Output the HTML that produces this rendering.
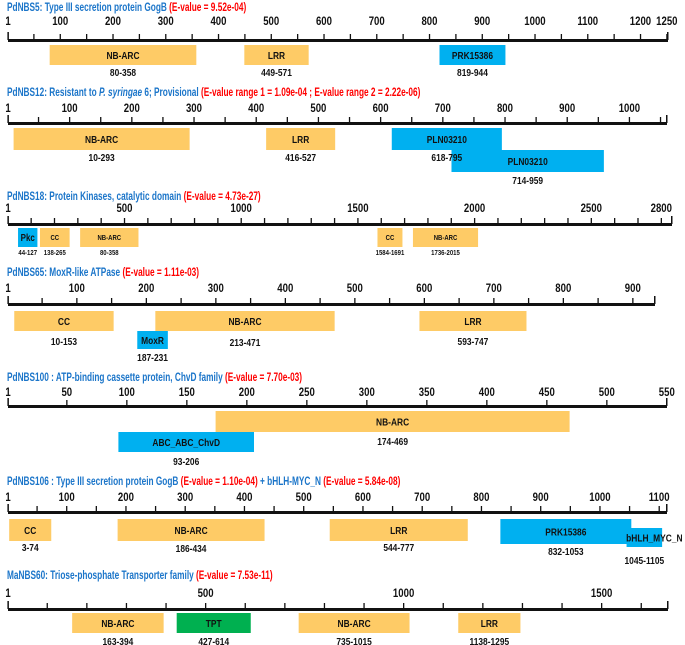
<!DOCTYPE html>
<html><head><meta charset="utf-8"><style>
html,body{margin:0;padding:0;background:#fff;}
svg{display:block;font-family:"Liberation Sans",Arial,sans-serif;}
</style></head><body>
<svg id="chart" width="685" height="645" viewBox="0 0 685 645" xmlns="http://www.w3.org/2000/svg"></svg>
<script>
// ---- data ----
const p1Ticks=[1,100,200,300,400,500,600,700,800,900,1000,1100,1200,1250];
const p1Names=["NB-ARC","LRR","PRK15386"];
const p1Starts=[80,449,819];
const p1Ends=[358,571,944];
const p1Types=["o","o","b"];

const p2Ticks=[1,100,200,300,400,500,600,700,800,900,1000];
const p2Names=["NB-ARC","LRR","PLN03210","PLN03210"];
const p2Starts=[10,416,618,714];
const p2Ends=[293,527,795,959];
const p2Types=["o","o","b","b"];

const p3Ticks=[1,500,1000,1500,2000,2500,2800];
const p3Names=["Pkc","CC","NB-ARC","CC","NB-ARC"];
const p3Starts=[44,138,310,1584,1736];
const p3Ends=[127,265,560,1691,2015];
const p3Printed=["44-127","138-265","80-358","1584-1691","1736-2015"];
const p3Types=["b","o","o","o","o"];

const p4Ticks=[1,100,200,300,400,500,600,700,800,900];
const p4Names=["CC","MoxR","NB-ARC","LRR"];
const p4Starts=[10,187,213,593];
const p4Ends=[153,231,471,747];
const p4Types=["o","b","o","o"];

const p5Ticks=[1,50,100,150,200,250,300,350,400,450,500,550];
const p5Names=["NB-ARC","ABC_ABC_ChvD"];
const p5Starts=[174,93];
const p5Ends=[469,206];
const p5Types=["o","b"];

const p6Ticks=[1,100,200,300,400,500,600,700,800,900,1000,1100];
const p6Names=["CC","NB-ARC","LRR","PRK15386","bHLH_MYC_N"];
const p6Starts=[3,186,544,832,1045];
const p6Ends=[74,434,777,1053,1105];
const p6Types=["o","o","o","b","b"];

const p7Ticks=[1,500,1000,1500];
const p7Names=["NB-ARC","TPT","NB-ARC","LRR"];
const p7Starts=[163,427,735,1138];
const p7Ends=[394,614,1015,1295];
const p7Types=["o","g","o","o"];

const B="#1b75c9",R="#ff0000";
const panels=[
 {id:"pdnbs5",title:[["PdNBS5: Type III secretion protein GogB ",B],["(E-value = 9.52e-04)",R]],ticks:p1Ticks,names:p1Names,starts:p1Starts,ends:p1Ends,types:p1Types,
  ly:{t:11,tk:25,ax:40,x0:8,k:0.5275,end:668,minor:50,tops:[45,45,45],h:[20,20,20],lab:[76,76,76],fs:10.5,ls:10.5}},
 {id:"pdnbs12",title:[["PdNBS12: Resistant to ",B],["P. syringae",B,1],[" 6; Provisional ",B],["(E-value range 1 = 1.09e-04 ; E-value range 2 = 2.22e-06)",R]],ticks:p2Ticks,names:p2Names,starts:p2Starts,ends:p2Ends,types:p2Types,
  ly:{t:96,tk:112,ax:123,x0:8,k:0.622,end:667,minor:50,tops:[128,128,128,150],h:[22,22,22,22],lab:[161,161,161,184],fs:10.5,ls:10.5}},
 {id:"pdnbs18",title:[["PdNBS18: Protein Kinases, catalytic domain ",B],["(E-value = 4.73e-27)",R]],ticks:p3Ticks,names:p3Names,starts:p3Starts,ends:p3Ends,types:p3Types,printed:p3Printed,
  ly:{t:200,tk:212,ax:224,x0:8,k:0.2334,end:672,minor:100,tops:[228,228,228,228,228],h:[19,19,19,19,19],lab:[255,255,255,255,255],fs:7.5,ls:7.5,first:10}},
 {id:"pdnbs65",title:[["PdNBS65: MoxR-like ATPase ",B],["(E-value = 1.11e-03)",R]],ticks:p4Ticks,names:p4Names,starts:p4Starts,ends:p4Ends,types:p4Types,
  ly:{t:276,tk:292,ax:304,x0:8,k:0.695,end:655,minor:50,tops:[311,331,311,311],h:[20,18,20,20],lab:[345,361,346,345],fs:10.5,ls:10.5}},
 {id:"pdnbs100",title:[["PdNBS100 : ATP-binding cassette protein, ChvD family ",B],["(E-value = 7.70e-03)",R]],ticks:p5Ticks,names:p5Names,starts:p5Starts,ends:p5Ends,types:p5Types,
  ly:{t:381,tk:396,ax:406,x0:8,k:1.2,end:667,minor:50,tops:[411,432],h:[21,20],lab:[445,465],fs:10.5,ls:10.5}},
 {id:"pdnbs106",title:[["PdNBS106 : Type III secretion protein  GogB ",B],["(E-value = 1.10e-04)",R],[" + bHLH-MYC_N ",B],["(E-value = 5.84e-08)",R]],ticks:p6Ticks,names:p6Names,starts:p6Starts,ends:p6Ends,types:p6Types,
  ly:{t:485,tk:501,ax:512,x0:8,k:0.5925,end:667,minor:50,tops:[519,519,519,519,528],h:[22,22,22,25,19],lab:[551,552,551,555,564],fs:10.5,ls:10.5}},
 {id:"manbs60",title:[["MaNBS60: Triose-phosphate Transporter family ",B],["(E-value = 7.53e-11)",R]],ticks:p7Ticks,names:p7Names,starts:p7Starts,ends:p7Ends,types:p7Types,
  ly:{t:579,tk:597,ax:609,x0:8,k:0.396,end:668,minor:100,tops:[613,613,613,613],h:[20,20,20,20],lab:[645,645,645,645],fs:10.5,ls:10.5}}
];
const FILL={o:"#fecb66",b:"#00b0f0",g:"#00b050"};
const NS="http://www.w3.org/2000/svg";
const svg=document.getElementById("chart");
function mk(tag,attrs,parent){const e=document.createElementNS(NS,tag);for(const k in attrs)e.setAttribute(k,attrs[k]);parent.appendChild(e);return e;}
function narrowText(parent,x,y,str,size,color,anchor){
  const t=mk("text",{x:0,y:0,"font-size":size,"font-weight":"bold",fill:color,"text-anchor":anchor||"middle",transform:`translate(${x},${y}) scale(0.8,1)`},parent);
  t.textContent=str;return t;
}
panels.forEach(p=>{
  const L=p.ly;
  const xs=v=>L.x0+L.k*(v-1);
  const g=mk("g",{},svg);
  
  
  const tt=mk("text",{x:0,y:0,"font-size":11.5,"font-weight":"bold",transform:`translate(7,${L.t}) scale(0.72,1)`},g);
  
  
  p.title.forEach(part=>{const s=mk("tspan",{fill:part[1]},tt);if(part[2])s.setAttribute("font-style","italic");s.textContent=part[0];});
  const ax=mk("rect",{x:L.x0,y:L.ax-1,width:L.end-L.x0,height:3,fill:"#111"},g);
  
  
  for(let v=L.minor;xs(v)<=L.end+0.5;v+=L.minor){
    const tk=mk("rect",{x:xs(v)-0.6,y:L.ax-6,width:1.3,height:6,fill:"#111"},g);
    
    
  }
  mk("rect",{x:L.x0-0.6,y:L.ax-8,width:1.5,height:8,fill:"#111"},g);
  mk("rect",{x:L.end-1,y:L.ax-8,width:1.5,height:8,fill:"#111"},g);
  p.ticks.forEach(v=>{
    const t=narrowText(g,xs(v),L.tk,String(v),12,"#111");
    
    
  });
  // boxes first
  p.names.forEach((nm,i)=>{
    const x1=xs(p.starts[i]),x2=xs(p.ends[i]);
    const r=mk("rect",{x:x1,y:L.tops[i],width:x2-x1,height:L.h[i],fill:FILL[p.types[i]]},g);
    
    
  });
  // then text
  p.names.forEach((nm,i)=>{
    const x1=xs(p.starts[i]),x2=xs(p.ends[i]);
    const fs=(L.first&&i===0)?L.first:L.fs;
    const dn=narrowText(g,(x1+x2)/2+(nm==="bHLH_MYC_N"?10:0),L.tops[i]+L.h[i]/2+fs*0.36,nm,fs,"#111");
    
    
    const lbl=p.printed?p.printed[i]:(p.starts[i]+"-"+p.ends[i]);
    const rl=narrowText(g,(x1+x2)/2,L.lab[i],lbl,L.ls,"#111");
    
    
  });
});
</script>
</body></html>
